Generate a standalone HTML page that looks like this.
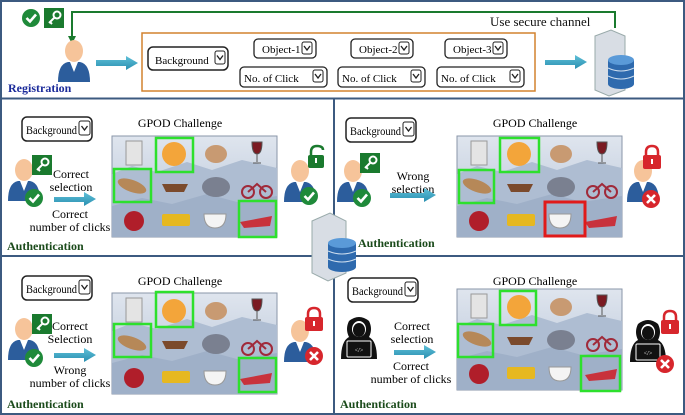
<!DOCTYPE html>
<html><head><meta charset="utf-8"><style>
body{margin:0;background:#fff}
svg{display:block}
text{font-family:"Liberation Serif",serif}
</style></head><body>
<svg width="685" height="415" viewBox="0 0 685 415" xmlns="http://www.w3.org/2000/svg">
<defs>
<linearGradient id="sky" x1="0" y1="0" x2="0" y2="1"><stop offset="0" stop-color="#dfe5ee"/><stop offset="1" stop-color="#b4c2d6"/></linearGradient>
<linearGradient id="arr" x1="0" y1="0" x2="0" y2="1"><stop offset="0" stop-color="#5fc0d8"/><stop offset="1" stop-color="#2a8fb0"/></linearGradient>
<g id="person">
<path d="M0 44 Q0 26 10 24 L22 24 Q32 26 32 44 Z" fill="#2c5d9c"/>
<path d="M12 24 L16 34 L20 24 Z" fill="#fff"/>
<ellipse cx="16" cy="13" rx="9" ry="11" fill="#f6c49a"/>
</g>
<g id="hacker">
<path d="M0 44 Q0 26 8 22 Q4 14 8 6 Q18 -2 28 6 Q32 14 28 22 Q36 26 36 44 Z" fill="#111"/>
<ellipse cx="18" cy="14" rx="7" ry="8" fill="#fff"/>
<ellipse cx="18" cy="15" rx="6" ry="7" fill="#111"/>
<rect x="6" y="26" width="24" height="16" rx="1" fill="#111" stroke="#fff" stroke-width="1"/>
<text x="18" y="37" font-size="6" fill="#fff" text-anchor="middle" font-family="Liberation Sans,sans-serif">&lt;/&gt;</text>
</g>
<g id="check"><circle r="9" fill="#1f8a3a"/><path d="M-4.5 0 L-1 3.5 L5 -3.5" stroke="#fff" stroke-width="2.6" fill="none"/></g>
<g id="xmark"><circle r="9" fill="#d7262c"/><path d="M-4 -4 L4 4 M4 -4 L-4 4" stroke="#fff" stroke-width="2.6"/></g>
<g id="key"><rect width="20" height="20" fill="#1a7a2e"/><circle cx="13" cy="7" r="3.5" fill="none" stroke="#fff" stroke-width="2"/><path d="M11 9 L5 15 M6 14 L8 16" stroke="#fff" stroke-width="2"/></g>
<g id="lockr"><path d="M3 9 V6 Q3 0 9 0 Q15 0 15 6 V9" fill="none" stroke="#d7262c" stroke-width="2.5"/><rect x="0" y="9" width="18" height="14" rx="2" fill="#d7262c"/><rect x="8" y="13" width="2" height="5" fill="#fff"/></g>
<g id="lockg"><path d="M3 9 V6 Q3 0 9 0 Q15 0 15 4" fill="none" stroke="#1a7a2e" stroke-width="2.5"/><rect x="0" y="9" width="16" height="13" rx="2" fill="#1a7a2e"/><rect x="7" y="12" width="2" height="5" fill="#fff"/></g>
<g id="chev"><path d="M-3 -2 L0 2 L3 -2" stroke="#222" fill="none" stroke-width="1.3"/></g>
<g id="bgdd"><rect x="0" y="0" width="70" height="24" rx="5" fill="#fff" stroke="#222" stroke-width="1.5"/><text x="4" y="17" font-size="12" textLength="51" lengthAdjust="spacingAndGlyphs">Background</text><rect x="57" y="4" width="11" height="14" rx="2" fill="#fff" stroke="#222"/><use href="#chev" x="62.5" y="11"/></g>
<g id="img">
<rect width="165" height="101" fill="url(#sky)" stroke="#8a96a8"/>
<path d="M0 38 L20 30 L45 36 L75 26 L100 34 L130 24 L165 32 V101 H0 Z" fill="#aebdd2"/>
<path d="M0 70 L30 62 L60 68 L95 58 L125 66 L165 60 V101 H0 Z" fill="#9fb0c8"/>
<rect x="14" y="5" width="16" height="24" fill="#e4e4e4" stroke="#999"/>
<circle cx="62" cy="18" r="12" fill="#f3a53a"/>
<ellipse cx="104" cy="18" rx="11" ry="9" fill="#c89a72"/>
<path d="M140 6 H150 Q150 18 145 18 Q140 18 140 6 Z M145 18 V26 M141 27 H149" fill="#7a1a22" stroke="#555"/>
<ellipse cx="20" cy="50" rx="15" ry="6" fill="#b68858" transform="rotate(20 20 50)"/>
<path d="M50 48 H76 L72 56 H54 Z" fill="#7b4a2c"/>
<ellipse cx="104" cy="51" rx="14" ry="10" fill="#7a8090"/>
<circle cx="136" cy="56" r="6" fill="none" stroke="#a02a3a" stroke-width="2"/><circle cx="154" cy="56" r="6" fill="none" stroke="#a02a3a" stroke-width="2"/><path d="M136 56 L145 48 L154 56" stroke="#a02a3a" fill="none" stroke-width="2"/>
<circle cx="22" cy="85" r="10" fill="#b01e2a"/>
<rect x="50" y="78" width="28" height="12" rx="2" fill="#e6b820"/>
<path d="M92 78 H114 Q114 92 103 92 Q92 92 92 78 Z" fill="#f4f4f4" stroke="#999"/>
<path d="M128 86 L160 80 L158 90 L132 92 Z" fill="#c8323c"/>
</g>
</defs>

<rect x="1" y="1" width="683" height="413" fill="#fff" stroke="#3c5a80" stroke-width="2"/>
<line x1="0" y1="98.5" x2="685" y2="98.5" stroke="#3c5a80" stroke-width="2"/>
<line x1="0" y1="256" x2="685" y2="256" stroke="#3c5a80" stroke-width="2"/>
<line x1="334" y1="98" x2="334" y2="415" stroke="#3c5a80" stroke-width="2"/>

<use href="#check" x="31" y="18"/>
<use href="#key" x="44" y="8"/>
<path d="M72 41 V12 H615 V28" fill="none" stroke="#1a7a2e" stroke-width="2"/>
<path d="M68 36 L72 44 L76 36 Z" fill="#1a7a2e"/>
<text x="490" y="26" font-size="13" font-family="Liberation Sans,sans-serif" fill="#111">Use secure channel</text>
<use href="#person" x="58" y="38"/>
<text x="8" y="92" font-size="12" font-weight="bold" fill="#1a2a9a">Registration</text>
<path d="M96 60 H126 V56 L138 63 L126 70 V66 H96 Z" fill="url(#arr)"/>
<rect x="142" y="33" width="393" height="58" fill="#fff" stroke="#d2822e" stroke-width="1.5"/>
<rect x="148" y="47" width="80" height="23" rx="5" fill="#fff" stroke="#222" stroke-width="1.5"/><text x="155" y="64" font-size="11">Background</text><rect x="215" y="51" width="10" height="13" rx="2" fill="#fff" stroke="#222"/><use href="#chev" x="220" y="57.5"/>
<g font-size="11">
<rect x="254" y="39" width="62" height="19" rx="4" fill="#fff" stroke="#222" stroke-width="1.3"/><text x="262" y="53">Object-1</text><rect x="302" y="42" width="10" height="12" rx="2" fill="#fff" stroke="#222"/><use href="#chev" x="307" y="48"/>
<rect x="351" y="39" width="62" height="19" rx="4" fill="#fff" stroke="#222" stroke-width="1.3"/><text x="359" y="53">Object-2</text><rect x="399" y="42" width="10" height="12" rx="2" fill="#fff" stroke="#222"/><use href="#chev" x="404" y="48"/>
<rect x="445" y="39" width="62" height="19" rx="4" fill="#fff" stroke="#222" stroke-width="1.3"/><text x="453" y="53">Object-3</text><rect x="493" y="42" width="10" height="12" rx="2" fill="#fff" stroke="#222"/><use href="#chev" x="498" y="48"/>
<rect x="240" y="67" width="87" height="20" rx="4" fill="#fff" stroke="#222" stroke-width="1.3"/><text x="244" y="82">No. of Click</text><rect x="313" y="70" width="10" height="12" rx="2" fill="#fff" stroke="#222"/><use href="#chev" x="318" y="76"/>
<rect x="338" y="67" width="87" height="20" rx="4" fill="#fff" stroke="#222" stroke-width="1.3"/><text x="342" y="82">No. of Click</text><rect x="411" y="70" width="10" height="12" rx="2" fill="#fff" stroke="#222"/><use href="#chev" x="416" y="76"/>
<rect x="437" y="67" width="87" height="20" rx="4" fill="#fff" stroke="#222" stroke-width="1.3"/><text x="441" y="82">No. of Click</text><rect x="510" y="70" width="10" height="12" rx="2" fill="#fff" stroke="#222"/><use href="#chev" x="515" y="76"/>
</g>
<path d="M545 60 H575 V55 L587 62 L575 69 V65 H545 Z" fill="url(#arr)"/>
<g transform="translate(595,30)">
<path d="M0 6 L16 0 L30 6 V60 L14 66 L0 60 Z" fill="#d8dde4" stroke="#9aa"/>
<rect x="13" y="30" width="26" height="24" fill="#2e6aae"/>
<ellipse cx="26" cy="54" rx="13" ry="5" fill="#2e6aae"/>
<path d="M13 38 Q26 44 39 38 M13 46 Q26 52 39 46" stroke="#cde" fill="none"/>
<ellipse cx="26" cy="30" rx="13" ry="5" fill="#5a9ad8"/>
</g>

<!-- P1 -->
<use href="#bgdd" x="22" y="117"/>
<text x="180" y="127" font-size="12" text-anchor="middle">GPOD Challenge</text>
<use href="#img" x="112" y="136"/>
<g fill="none" stroke="#2de02d" stroke-width="2.5"><rect x="156" y="138" width="37" height="34"/><rect x="114" y="169" width="37" height="33"/><rect x="239" y="201" width="37" height="36"/></g>
<use href="#person" x="8" y="157"/><use href="#key" x="32" y="155"/><use href="#check" x="34" y="198"/>
<text x="71" y="178" font-size="12" text-anchor="middle">Correct</text><text x="71" y="191" font-size="12" text-anchor="middle">selection</text>
<path d="M54 197 H84 V192 L96 199 L84 206 V202 H54 Z" fill="url(#arr)"/>
<text x="70" y="218" font-size="12" text-anchor="middle">Correct</text><text x="70" y="231" font-size="12" text-anchor="middle">number of clicks</text>
<use href="#person" x="284" y="158"/><use href="#lockg" x="308" y="146"/><use href="#check" x="309" y="196"/>
<text x="7" y="250" font-size="12" font-weight="bold" fill="#1a4a1a">Authentication</text>

<!-- P2 -->
<use href="#bgdd" x="346" y="118"/>
<text x="535" y="127" font-size="12" text-anchor="middle">GPOD Challenge</text>
<use href="#img" x="457" y="136"/>
<g fill="none" stroke="#2de02d" stroke-width="2.5"><rect x="500" y="138" width="39" height="34"/><rect x="459" y="170" width="35" height="33"/></g>
<rect x="545" y="202" width="40" height="34" fill="none" stroke="#e01a1a" stroke-width="3"/>
<use href="#person" x="337" y="158"/><use href="#key" x="360" y="153"/><use href="#check" x="362" y="198"/>
<text x="413" y="180" font-size="12" text-anchor="middle">Wrong</text><text x="413" y="193" font-size="12" text-anchor="middle">selection</text>
<path d="M390 193 H424 V188 L436 195 L424 202 V198 H390 Z" fill="url(#arr)"/>
<use href="#person" x="627" y="158"/><use href="#lockr" x="643" y="146"/><use href="#xmark" x="651" y="199"/>
<text x="358" y="247" font-size="12" font-weight="bold" fill="#1a4a1a">Authentication</text>

<g transform="translate(312,213)">
<path d="M0 8 L18 0 L34 8 V60 L16 68 L0 60 Z" fill="#d8dde4" stroke="#9aa"/>
<rect x="16" y="30" width="28" height="24" fill="#2e6aae"/>
<ellipse cx="30" cy="54" rx="14" ry="5" fill="#2e6aae"/>
<path d="M16 38 Q30 44 44 38 M16 46 Q30 52 44 46" stroke="#cde" fill="none"/>
<ellipse cx="30" cy="30" rx="14" ry="5" fill="#5a9ad8"/>
</g>

<!-- P3 -->
<use href="#bgdd" x="22" y="276"/>
<text x="180" y="285" font-size="12" text-anchor="middle">GPOD Challenge</text>
<use href="#img" x="112" y="293"/>
<g fill="none" stroke="#2de02d" stroke-width="2.5"><rect x="156" y="292" width="37" height="35"/><rect x="114" y="324" width="37" height="33"/><rect x="239" y="358" width="37" height="34"/></g>
<use href="#person" x="8" y="316"/><use href="#key" x="32" y="314"/><use href="#check" x="34" y="358"/>
<text x="70" y="330" font-size="12" text-anchor="middle">Correct</text><text x="70" y="343" font-size="12" text-anchor="middle">Selection</text>
<path d="M54 353 H84 V348 L96 355 L84 362 V358 H54 Z" fill="url(#arr)"/>
<text x="70" y="374" font-size="12" text-anchor="middle">Wrong</text><text x="70" y="387" font-size="12" text-anchor="middle">number of clicks</text>
<use href="#person" x="284" y="318"/><use href="#lockr" x="305" y="308"/><use href="#xmark" x="314" y="356"/>
<text x="7" y="408" font-size="12" font-weight="bold" fill="#1a4a1a">Authentication</text>

<!-- P4 -->
<use href="#bgdd" x="348" y="278"/>
<text x="535" y="285" font-size="12" text-anchor="middle">GPOD Challenge</text>
<use href="#img" x="457" y="289"/>
<g fill="none" stroke="#2de02d" stroke-width="2.5"><rect x="500" y="291" width="36" height="34"/><rect x="458" y="324" width="35" height="33"/><rect x="581" y="356" width="39" height="35"/></g>
<use href="#hacker" x="341" y="315"/>
<text x="412" y="330" font-size="12" text-anchor="middle">Correct</text><text x="412" y="343" font-size="12" text-anchor="middle">selection</text>
<path d="M394 350 H424 V345 L436 352 L424 359 V355 H394 Z" fill="url(#arr)"/>
<text x="411" y="370" font-size="12" text-anchor="middle">Correct</text><text x="411" y="383" font-size="12" text-anchor="middle">number of clicks</text>
<use href="#hacker" x="630" y="318"/><use href="#lockr" x="661" y="311"/><use href="#xmark" x="665" y="364"/>
<text x="340" y="408" font-size="12" font-weight="bold" fill="#1a4a1a">Authentication</text>
</svg>
</body></html>
